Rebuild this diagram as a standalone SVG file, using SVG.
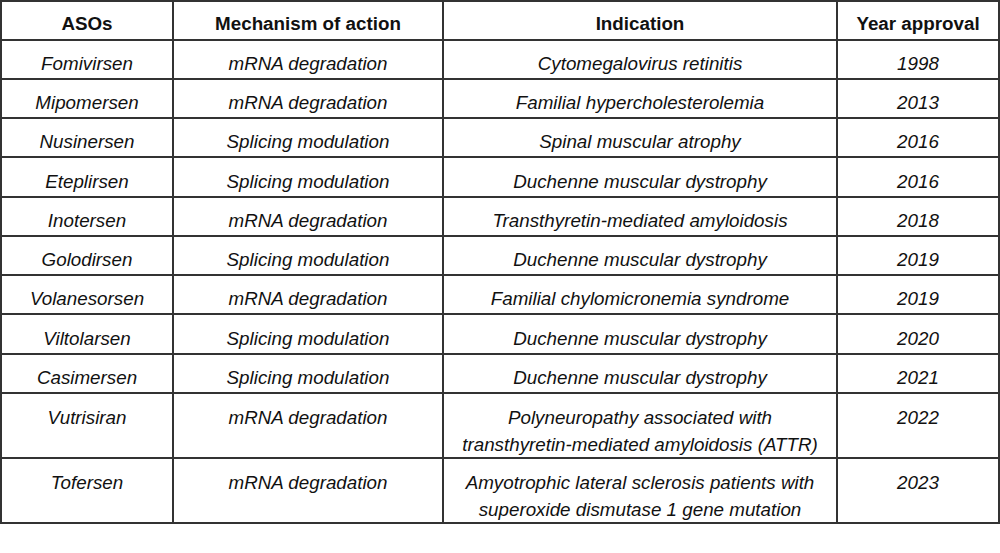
<svg xmlns="http://www.w3.org/2000/svg" width="1000" height="553" viewBox="0 0 1000 553">
<style>
text{font-family:"Liberation Sans",Arial,sans-serif;font-size:18.8px;fill:#111;text-anchor:middle;font-style:italic}
text.h{font-weight:bold;font-style:normal}
.g line{stroke:#333;stroke-width:2}
</style>
<rect width="1000" height="553" fill="#fff"/>
<g class="g" id="grid">
<rect x="1" y="1" width="998" height="522" fill="none" stroke="#333" stroke-width="2"/>
<line x1="173" y1="1" x2="173" y2="523"/><line x1="443" y1="1" x2="443" y2="523"/><line x1="837" y1="1" x2="837" y2="523"/>
<line x1="1" y1="40" x2="999" y2="40"/><line x1="1" y1="79" x2="999" y2="79"/><line x1="1" y1="118" x2="999" y2="118"/><line x1="1" y1="157" x2="999" y2="157"/><line x1="1" y1="197" x2="999" y2="197"/><line x1="1" y1="236" x2="999" y2="236"/><line x1="1" y1="275" x2="999" y2="275"/><line x1="1" y1="314" x2="999" y2="314"/><line x1="1" y1="354" x2="999" y2="354"/><line x1="1" y1="393" x2="999" y2="393"/><line x1="1" y1="458" x2="999" y2="458"/>
</g>
<g id="header"><text class="h" x="87" y="30">ASOs</text><text class="h" x="308" y="30">Mechanism of action</text><text class="h" x="640" y="30">Indication</text><text class="h" x="918" y="30">Year approval</text></g>
<g id="r1"><text x="87" y="70">Fomivirsen</text><text x="308" y="70">mRNA degradation</text><text x="640" y="70">Cytomegalovirus retinitis</text><text x="918" y="70">1998</text></g>
<g id="r2"><text x="87" y="109">Mipomersen</text><text x="308" y="109">mRNA degradation</text><text x="640" y="109">Familial hypercholesterolemia</text><text x="918" y="109">2013</text></g>
<g id="r3"><text x="87" y="148">Nusinersen</text><text x="308" y="148">Splicing modulation</text><text x="640" y="148">Spinal muscular atrophy</text><text x="918" y="148">2016</text></g>
<g id="r4"><text x="87" y="188">Eteplirsen</text><text x="308" y="188">Splicing modulation</text><text x="640" y="188">Duchenne muscular dystrophy</text><text x="918" y="188">2016</text></g>
<g id="r5"><text x="87" y="227">Inotersen</text><text x="308" y="227">mRNA degradation</text><text x="640" y="227">Transthyretin-mediated amyloidosis</text><text x="918" y="227">2018</text></g>
<g id="r6"><text x="87" y="266">Golodirsen</text><text x="308" y="266">Splicing modulation</text><text x="640" y="266">Duchenne muscular dystrophy</text><text x="918" y="266">2019</text></g>
<g id="r7"><text x="87" y="305">Volanesorsen</text><text x="308" y="305">mRNA degradation</text><text x="640" y="305">Familial chylomicronemia syndrome</text><text x="918" y="305">2019</text></g>
<g id="r8"><text x="87" y="345">Viltolarsen</text><text x="308" y="345">Splicing modulation</text><text x="640" y="345">Duchenne muscular dystrophy</text><text x="918" y="345">2020</text></g>
<g id="r9"><text x="87" y="384">Casimersen</text><text x="308" y="384">Splicing modulation</text><text x="640" y="384">Duchenne muscular dystrophy</text><text x="918" y="384">2021</text></g>
<g id="r10"><text x="87" y="424">Vutrisiran</text><text x="308" y="424">mRNA degradation</text><text x="640" y="424">Polyneuropathy associated with</text><text x="640" y="451">transthyretin-mediated amyloidosis (ATTR)</text><text x="918" y="424">2022</text></g>
<g id="r11"><text x="87" y="489">Tofersen</text><text x="308" y="489">mRNA degradation</text><text x="640" y="489">Amyotrophic lateral sclerosis patients with</text><text x="640" y="516">superoxide dismutase 1 gene mutation</text><text x="918" y="489">2023</text></g>
</svg>
